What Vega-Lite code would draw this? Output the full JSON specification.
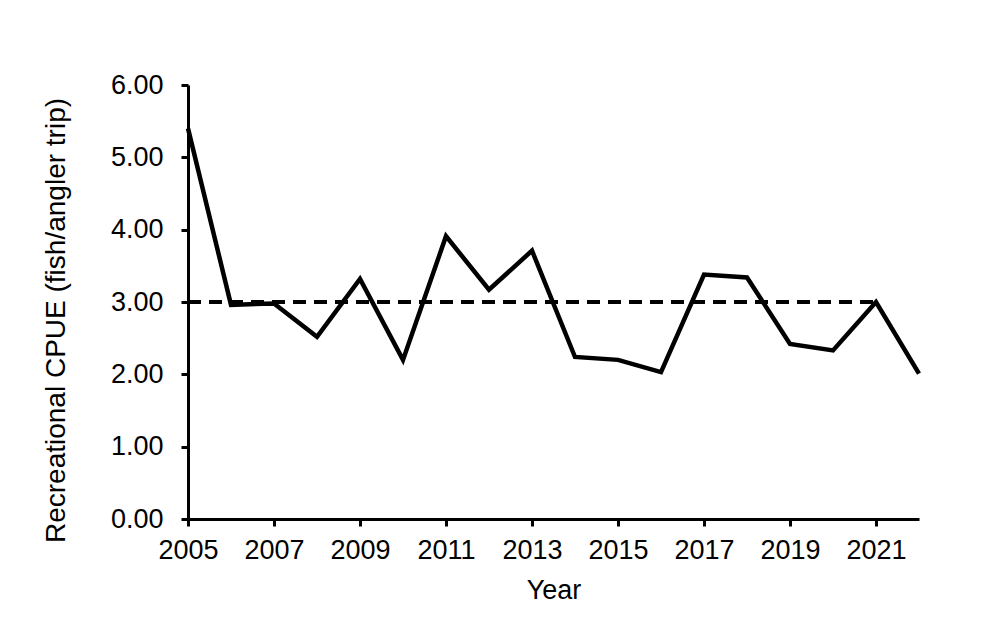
{
  "$schema": "https://vega.github.io/schema/vega-lite/v6.json",
  "width": 731,
  "height": 434,
  "autosize": {"type": "none"},
  "padding": {"left": 188, "top": 85, "right": 81, "bottom": 111},
  "background": "white",
  "config": {
    "view": {"stroke": null},
    "font": "Liberation Sans",
    "axis": {
      "grid": false,
      "domainColor": "black",
      "domainWidth": 3,
      "tickColor": "black",
      "tickWidth": 3,
      "tickSize": 7,
      "labelFont": "Liberation Sans",
      "labelFontSize": 27,
      "labelColor": "black",
      "titleFont": "Liberation Sans",
      "titleFontSize": 27,
      "titleFontWeight": "normal",
      "titleColor": "black"
    }
  },
  "datasets": {
    "cpue": [
      {"Year": 2005, "CPUE": 5.40},
      {"Year": 2006, "CPUE": 2.96},
      {"Year": 2007, "CPUE": 2.98},
      {"Year": 2008, "CPUE": 2.52},
      {"Year": 2009, "CPUE": 3.32},
      {"Year": 2010, "CPUE": 2.20},
      {"Year": 2011, "CPUE": 3.91},
      {"Year": 2012, "CPUE": 3.17},
      {"Year": 2013, "CPUE": 3.71},
      {"Year": 2014, "CPUE": 2.24},
      {"Year": 2015, "CPUE": 2.20},
      {"Year": 2016, "CPUE": 2.03},
      {"Year": 2017, "CPUE": 3.38},
      {"Year": 2018, "CPUE": 3.34},
      {"Year": 2019, "CPUE": 2.42},
      {"Year": 2020, "CPUE": 2.33},
      {"Year": 2021, "CPUE": 3.00},
      {"Year": 2022, "CPUE": 2.01}
    ],
    "reference": [
      {"Year": 2005, "CPUE": 3.0},
      {"Year": 2021, "CPUE": 3.0}
    ]
  },
  "encoding": {
    "x": {
      "field": "Year",
      "type": "quantitative",
      "scale": {"domain": [2005, 2022], "nice": false, "zero": false},
      "axis": {
        "title": "Year",
        "values": [2005, 2007, 2009, 2011, 2013, 2015, 2017, 2019, 2021],
        "format": "d",
        "labelPadding": 11,
        "titlePadding": 14,
        "labelOverlap": false,
        "labelFlush": false
      }
    },
    "y": {
      "field": "CPUE",
      "type": "quantitative",
      "scale": {"domain": [0, 6], "nice": false},
      "axis": {
        "title": "Recreational CPUE (fish/angler trip)",
        "titleFontSize": 28,
        "titleY": 235,
        "values": [0, 1, 2, 3, 4, 5, 6],
        "format": ".2f",
        "labelPadding": 18,
        "titlePadding": 40,
        "labelFlush": false
      }
    }
  },
  "layer": [
    {
      "data": {"name": "reference"},
      "mark": {"type": "line", "color": "black", "strokeWidth": 4, "strokeDash": [13, 8], "clip": false}
    },
    {
      "data": {"name": "cpue"},
      "mark": {"type": "line", "color": "black", "strokeWidth": 4.5, "strokeJoin": "miter", "clip": false}
    }
  ]
}
